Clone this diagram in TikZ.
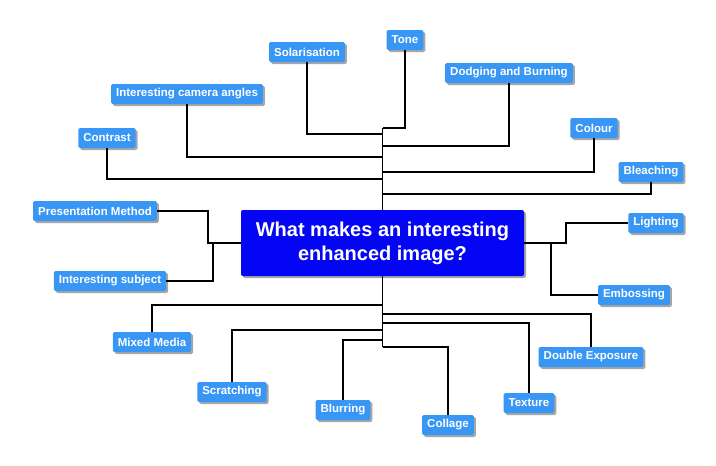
\documentclass[tikz,border=0pt]{standalone}
\usepackage{fontspec}
\setmainfont{Liberation Sans}
\usetikzlibrary{shadows}
\begin{document}
\begin{tikzpicture}[x=1pt,y=-1pt,
  lab/.style={fill=lblue,rounded corners=1.5pt,text=white,font=\fontsize{11.5}{13}\selectfont\bfseries,inner xsep=5pt,inner ysep=2pt,minimum height=20pt,drop shadow={shadow xshift=2pt,shadow yshift=-2pt,fill=black,opacity=0.35}},
  cen/.style={fill=cblue,rounded corners=2pt,text=white,font=\fontsize{20}{24}\selectfont\bfseries,align=center,minimum width=283pt,minimum height=66pt,drop shadow={shadow xshift=2pt,shadow yshift=-2pt,fill=black,opacity=0.35}},
  ln/.style={line width=1.3pt,black}]
\definecolor{lblue}{RGB}{56,150,245}
\definecolor{cblue}{RGB}{5,5,245}
\useasboundingbox (0,0) rectangle (716,466);
\node[cen] (c) at (382.5,243) {What makes an interesting\\enhanced image?};
\node[lab] (sol) at (307,52) {Solarisation};
\node[lab] (tone) at (405,40) {Tone};
\node[lab] (dod) at (509,73) {Dodging and Burning};
\node[lab] (cam) at (187,94) {Interesting camera angles};
\node[lab] (col) at (594,128) {Colour};
\node[lab] (con) at (107,138) {Contrast};
\node[lab] (ble) at (651,172) {Bleaching};
\node[lab] (pre) at (95,211) {Presentation Method};
\node[lab] (lig) at (656,223) {Lighting};
\node[lab] (sub) at (110,281) {Interesting subject};
\node[lab] (emb) at (634,295) {Embossing};
\node[lab] (mix) at (152,342) {Mixed Media};
\node[lab] (dbl) at (591,357) {Double Exposure};
\node[lab] (scr) at (232,392) {Scratching};
\node[lab] (blu) at (343,410) {Blurring};
\node[lab] (cla) at (448,425) {Collage};
\node[lab] (tex) at (529,403) {Texture};
\coordinate (tt) at (382.5,128);
\coordinate (bb) at (382.5,347);
\draw[ln] (c.north) -- (tt);
\draw[ln] (c.south) -- (bb);
\draw[ln] (tone.south) |- (tt);
\draw[ln] (sol.south) |- (c.north |- 0,134);
\draw[ln] (dod.south) |- (c.north |- 0,146);
\draw[ln] (cam.south) |- (c.north |- 0,157);
\draw[ln] (col.south) |- (c.north |- 0,172);
\draw[ln] (con.south) |- (c.north |- 0,179);
\draw[ln] (ble.south) |- (c.north |- 0,194);
\draw[ln] (pre.east) -| (208,243) -- (c.west);
\draw[ln] (sub.east) -| (213,243);
\draw[ln] (c.east) -- (566,243) |- (lig.west);
\draw[ln] (551,243) |- (emb.west);
\draw[ln] (mix.north) |- (c.south |- 0,305);
\draw[ln] (dbl.north) |- (c.south |- 0,314);
\draw[ln] (tex.north) |- (c.south |- 0,323);
\draw[ln] (scr.north) |- (c.south |- 0,330);
\draw[ln] (blu.north) |- (c.south |- 0,340);
\draw[ln] (cla.north) |- (bb);
\end{tikzpicture}
\end{document}
